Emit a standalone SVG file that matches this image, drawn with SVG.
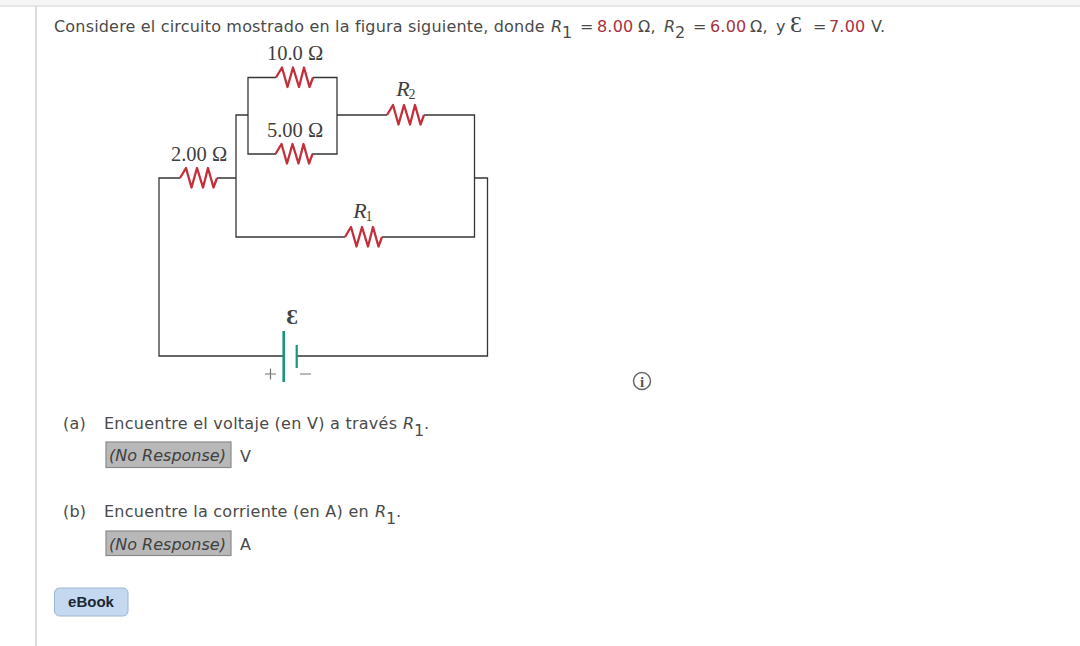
<svg xmlns="http://www.w3.org/2000/svg" width="1080" height="646" viewBox="0 0 1080 646">
<style>
.t{font-family:"DejaVu Sans",Verdana,sans-serif;font-size:16px;letter-spacing:.18px;fill:#4a4a4a}
.q{letter-spacing:.26px}
.i{font-style:italic}
.a{letter-spacing:0;fill:#404040}
.r{fill:#a8323e}
.e{font-family:"Liberation Serif",serif;fill:#444;font-size:24px}
.l{font-family:"Liberation Serif","Times New Roman",serif;font-size:20.5px;fill:#3f3f3f;text-anchor:middle}
.n{font-size:22px;font-style:italic}
.u{font-size:14px}
.w{fill:none;stroke:#363636;stroke-width:1.3}
.z{fill:none;stroke:#c42f3c;stroke-width:2.300;stroke-linejoin:round}
.b{stroke:#17957d;fill:none}
.box{fill:#b8b8b8;stroke:#8a8a8a;stroke-width:1.200}
</style>
<defs>
<path id="zig" class="z" d="M0 0L6 -10L11.500 9.500L17 -10L23 9.500L28 -10L33.500 9.500L37 0"/>
</defs>
<rect width="1080" height="646" fill="#fff"/>
<rect width="1080" height="5" fill="#f5f5f5"/>
<rect y="5" width="1080" height="2" fill="#e6e6e6"/>
<rect x="35" y="6" width="2" height="640" fill="#dcdcdc"/>

<g id="question">
<text class="t" x="54" y="32">Considere el circuito mostrado en la figura siguiente, donde</text>
<text class="t i" x="551" y="32">R</text><text class="t" x="562" y="38">1</text>
<text class="t" x="580" y="32">=</text><text class="t r" x="597" y="32">8.00</text><text class="t" x="638" y="32">Ω,</text>
<text class="t i" x="664" y="32">R</text><text class="t" x="675" y="38">2</text>
<text class="t" x="693" y="32">=</text><text class="t r" x="710" y="32">6.00</text><text class="t" x="750" y="32">Ω,</text>
<text class="t" x="776" y="32">y</text>
<text class="e" x="790" y="32">Ɛ</text>
<text class="t" x="813" y="32">=</text><text class="t r" x="829" y="32">7.00</text><text class="t" x="871" y="32">V.</text>
</g>

<g id="connectors">
<path class="w" d="M276 77.500H248V154H276M313 77.500H337V154H312"/>
<path class="w" d="M248 115H236V237H345M382 237H474.500V115H424M387 115H337"/>
<path class="w" d="M236 178H217M180 178H159V356H283.500M297 356H487.500V178H474.500"/>
</g>

<g id="r-10"><use href="#zig" x="276" y="77.500"/><text class="l" x="295" y="60">10.0 Ω</text></g>
<g id="r-5"><use href="#zig" x="275.500" y="154"/><text class="l" x="295" y="137">5.00 Ω</text></g>
<g id="r-2"><use href="#zig" x="180" y="178"/><text class="l" x="199" y="161">2.00 Ω</text></g>
<g id="r-r2"><use href="#zig" x="387" y="115"/>
<text class="l n" x="403" y="96">R</text><text class="l u" x="412" y="99">2</text></g>
<g id="r-r1"><use href="#zig" x="345" y="237"/>
<text class="l n" x="360" y="218">R</text><text class="l u" x="369" y="221">1</text></g>

<g id="battery">
<path class="b" stroke-width="2.600" d="M283.700 331V382"/>
<path class="b" stroke-width="2.200" d="M296.700 345V368"/>
<text class="e" x="292" y="324" font-weight="bold" style="font-size:22px" text-anchor="middle">Ɛ</text>
<path d="M265 374H276M270.500 368.500V379.500M300 374H311" fill="none" stroke="#777" stroke-width="1.200"/>
</g>

<g id="info">
<circle cx="642" cy="381" r="8.500" fill="#fff" stroke="#666" stroke-width="1.500"/>
<text x="642" y="387" font-family="'Liberation Serif',serif" font-size="15" font-weight="bold" fill="#555" text-anchor="middle">i</text>
</g>

<g id="part-a">
<text class="t" x="63" y="429">(a)</text>
<text class="t q" x="104" y="429">Encuentre el voltaje (en V) a través</text>
<text class="t i" x="403" y="429">R</text><text class="t" x="414" y="436">1</text><text class="t" x="424" y="429">.</text>
<rect class="box" x="106" y="442" width="125" height="25.500"/>
<text class="t i a" x="109" y="461">(No Response)</text>
<text class="t" x="240" y="462">V</text>
</g>

<g id="part-b">
<text class="t" x="63" y="517">(b)</text>
<text class="t q" x="104" y="517">Encuentre la corriente (en A) en</text>
<text class="t i" x="375" y="517">R</text><text class="t" x="386" y="524">1</text><text class="t" x="396" y="517">.</text>
<rect class="box" x="106" y="531" width="125" height="24.500"/>
<text class="t i a" x="109" y="550">(No Response)</text>
<text class="t" x="240" y="550">A</text>
</g>

<g id="ebook">
<rect x="54.500" y="588" width="73.500" height="28" rx="5" fill="#c4d8f0" stroke="#9fb6d1"/>
<text x="91" y="607" font-family="'Liberation Sans',Arial,sans-serif" font-size="15" font-weight="bold" fill="#1d2633" text-anchor="middle">eBook</text>
</g>
</svg>
